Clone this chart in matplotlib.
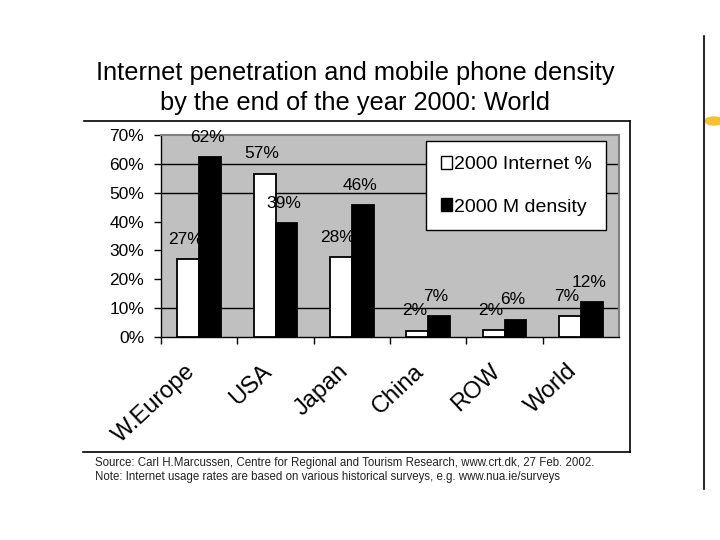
import matplotlib
matplotlib.use("Agg")
import matplotlib.pyplot as plt
from matplotlib.lines import Line2D
from matplotlib.patches import Patch, Ellipse
import numpy as np

plt.rcParams['font.family'] = ['Liberation Sans', 'DejaVu Sans']

regions = ["W.Europe", "USA", "Japan", "China", "ROW", "World"]
internet = [27.0, 56.6, 27.6, 2.2, 2.4, 7.2]
mobile = [62.3, 39.4, 45.6, 7.2, 5.9, 12.1]
yticks = [0, 10, 20, 30, 40, 50, 60, 70]
ytick_labels = ["0%", "10%", "20%", "30%", "40%", "50%", "60%", "70%"]
grid_levels = [10, 50, 60]
series_names = ["2000 Internet %", "2000 M density"]

W, H = 720, 540
fig = plt.figure(figsize=(7.2, 5.4), dpi=100)

def fx(px):
    return px / W

def fy(py):
    return 1 - py / H

ax = fig.add_axes([fx(161), fy(337), fx(619) - fx(161), fy(135) - fy(337)])
ax.set_facecolor("#c0c0c0")

x = np.arange(len(regions))
bw = 0.286
b1 = ax.bar(x - bw / 2, internet, bw, color="white", edgecolor="black", linewidth=1.3, zorder=3)
b2 = ax.bar(x + bw / 2, mobile, bw, color="black", edgecolor="black", linewidth=1.3, zorder=3)

for bars, vals in [(b1, internet), (b2, mobile)]:
    for r, v in zip(bars, vals):
        ax.annotate(f"{round(v)}%", (r.get_x() + r.get_width() / 2, v),
                    xytext=(-3, 20), textcoords="offset pixels",
                    ha="center", va="center", fontsize=12.5, zorder=5)

for g in grid_levels:
    ax.axhline(g, color="black", linewidth=1, zorder=1)

ax.set_xlim(-0.5, len(regions) - 0.5)
ax.set_ylim(0, 70)
ax.set_yticks(yticks)
ax.set_yticklabels(ytick_labels, fontsize=12.5)
ax.set_xticks(np.arange(len(regions)) - 0.5)
ax.set_xticklabels([])
ax.tick_params(axis="y", direction="out", length=5, width=1, pad=7)
ax.tick_params(axis="x", direction="out", length=5, width=1)
for s in ["top", "right"]:
    ax.spines[s].set_color("#808080")
    ax.spines[s].set_linewidth(1.5)
for s in ["left", "bottom"]:
    ax.spines[s].set_color("black")
    ax.spines[s].set_linewidth(1)

for i, name in enumerate(regions):
    ax.annotate(name, (i, 0), xycoords="data", xytext=(-7, -31), textcoords="offset pixels",
                rotation=43, rotation_mode="anchor", ha="right", va="center", fontsize=17)

handles = [Patch(facecolor="white", edgecolor="black", linewidth=1),
           Patch(facecolor="black", edgecolor="black", linewidth=1)]
leg = ax.legend(handles, series_names, loc="upper right",
                bbox_to_anchor=(fx(606), fy(141)), bbox_transform=fig.transFigure,
                fontsize=14, frameon=True, fancybox=False, framealpha=1,
                edgecolor="black", borderpad=0.75, labelspacing=1.3,
                handlelength=0.55, handleheight=0.65, handletextpad=0.1,
                borderaxespad=0)
leg.get_frame().set_linewidth(1)
leg.set_zorder(6)

fig.text(fx(355), fy(73), "Internet penetration and mobile phone density",
         ha="center", va="center", fontsize=18.3)
fig.text(fx(355), fy(103), "by the end of the year 2000: World",
         ha="center", va="center", fontsize=18.3)

fig.text(fx(95), fy(463), "Source: Carl H.Marcussen, Centre for Regional and Tourism Research, www.crt.dk, 27 Feb. 2002.",
         ha="left", va="center", fontsize=8.3, color="#222222")
fig.text(fx(95), fy(477), "Note: Internet usage rates are based on various historical surveys, e.g. www.nua.ie/surveys",
         ha="left", va="center", fontsize=8.3, color="#222222")

# outer chart frame (no left edge) and slide decorations
frame = [([84, 630], [120.7, 120.7]), ([630, 630], [120.7, 452]), ([83, 630], [452, 452])]
for xs, ys in frame:
    fig.add_artist(Line2D([fx(v) for v in xs], [fy(v) for v in ys], color="black", linewidth=1.2,
                          transform=fig.transFigure))
fig.add_artist(Line2D([fx(704), fx(704)], [fy(36), fy(489)], color="black", linewidth=1.2,
                      transform=fig.transFigure))
fig.add_artist(Ellipse((fx(714), fy(121)), fx(18), 8 / H, color="#f6c030",
                       transform=fig.transFigure))

fig.savefig("out.png", dpi=100)
